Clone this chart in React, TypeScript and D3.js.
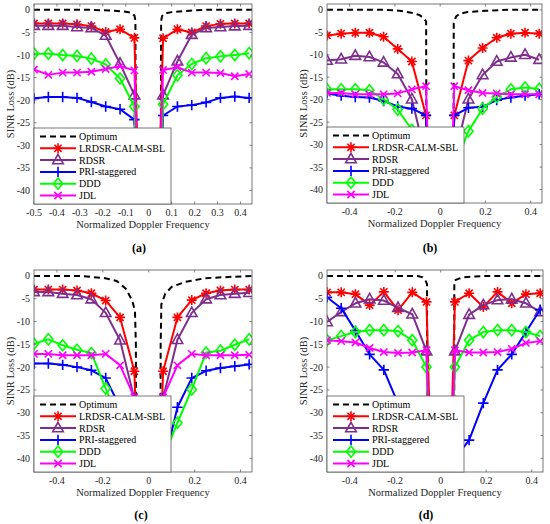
import * as d3 from "d3";

// normalized Doppler frequency grid of the marked series (0 is the clutter notch)
const xGrid = [-0.5, -0.4375, -0.375, -0.3125, -0.25, -0.1875, -0.125, -0.0625, 0, 0.0625, 0.125, 0.1875, 0.25, 0.3125, 0.375, 0.4375];
const NOTCH = -120;

const seriesNames = ["Optimum", "LRDSR-CALM-SBL", "RDSR", "PRI-staggered", "DDD", "JDL"];
const seriesColors = ["#000000", "#FF0000", "#7E2F8E", "#0000FF", "#00FF00", "#FF00FF"];
const seriesMarkers = ["none", "star", "tri", "plus", "diamond", "x"];

const xTicksA = [-0.5, -0.4, -0.3, -0.2, -0.1, 0, 0.1, 0.2, 0.3, 0.4];
const xTicksB = [-0.4, -0.2, 0, 0.2, 0.4];
const yTicks = [0, -5, -10, -15, -20, -25, -30, -35, -40];

// (a)
const optXA = [-0.5, -0.25, -0.2, -0.15, -0.1, -0.08, -0.07, -0.062, -0.058, -0.054, 0, 0.05, 0.054, 0.058, 0.065, 0.08, 0.1, 0.15, 0.2, 0.25, 0.45];
const optYA = [0, 0, -0.1, -0.2, -0.4, -0.6, -0.9, -1.3, -2.5, -90, -150, -90, -2.5, -1.4, -1.0, -0.7, -0.5, -0.3, -0.1, 0, 0];
const lrdsrA = [-3.0, -3.0, -3.0, -3.2, -3.6, -4.9, -4.3, -6.2, NOTCH, -6.3, -4.3, -5.0, -3.6, -3.1, -3.0, -3.0];
const rdsrA = [-3.5, -3.5, -3.5, -3.8, -4.0, -5.7, -11.9, -18.9, NOTCH, -18.9, -11.4, -5.5, -4.0, -3.8, -3.6, -3.5];
const priA = [-19.6, -19.3, -19.3, -19.5, -20.4, -21.4, -22.0, -24.3, NOTCH, -23.4, -21.4, -21.1, -20.5, -19.5, -19.2, -19.5];
const dddA = [-9.7, -9.7, -10.0, -10.2, -10.8, -12.1, -15.2, -21.4, NOTCH, -20.9, -14.5, -12.0, -10.7, -10.3, -10.0, -9.6];
const jdlA = [-13.2, -14.4, -13.9, -13.9, -13.7, -13.1, -12.5, -13.4, NOTCH, -13.3, -12.7, -13.9, -13.9, -14.0, -14.7, -14.2];

// (b)
const optXB = [-0.5, -0.25, -0.18, -0.12, -0.09, -0.072, -0.062, -0.058, 0, 0.058, 0.06, 0.07, 0.085, 0.12, 0.2, 0.3, 0.45];
const optYB = [0, 0, -0.2, -0.7, -1.2, -1.9, -2.6, -90, -150, -90, -3.0, -1.5, -0.9, -0.5, -0.2, 0, 0];
const lrdsrB = [-5.7, -5.3, -5.1, -5.1, -6.0, -8.7, -11.5, -23.5, NOTCH, -23.5, -11.3, -8.5, -6.2, -5.3, -5.1, -5.3];
const rdsrB = [-11.3, -11.0, -10.2, -10.5, -11.7, -14.3, -19.9, -33.0, NOTCH, -33.0, -19.9, -14.5, -11.5, -10.6, -10.0, -11.1];
const priB = [-18.6, -19.1, -19.4, -19.5, -20.3, -21.5, -22.0, -23.5, NOTCH, -23.5, -21.8, -21.6, -20.1, -19.5, -19.1, -18.8];
const dddB = [-17.7, -17.7, -17.7, -17.9, -19.9, -22.2, -26.7, -35.0, NOTCH, -35.0, -27.0, -22.0, -19.4, -17.7, -17.3, -17.6];
const jdlB = [-18.5, -18.5, -18.8, -18.8, -18.8, -18.6, -17.7, -17.0, NOTCH, -17.0, -17.9, -18.5, -18.6, -18.8, -18.8, -18.8];

// (c)
const optXC = [-0.5, -0.3, -0.19, -0.14, -0.1, -0.072, -0.06, -0.056, -0.054, 0, 0.05, 0.052, 0.055, 0.072, 0.1, 0.16, 0.245, 0.36, 0.45];
const optYC = [0, 0, -0.5, -1.1, -2.8, -5.4, -7.7, -15, -90, -150, -90, -15, -6.2, -3.9, -2.4, -1.3, -0.5, -0.2, 0];
const lrdsrC = [-3.0, -3.0, -3.0, -3.2, -3.8, -5.4, -9.1, -20.9, NOTCH, -20.9, -9.1, -5.3, -3.8, -3.2, -3.0, -3.0];
const rdsrC = [-3.5, -3.5, -3.9, -4.2, -5.1, -8.1, -14.1, -27.0, NOTCH, -26.8, -14.0, -8.1, -5.1, -4.2, -3.9, -3.7];
const priC = [-19.2, -19.2, -19.5, -20.0, -20.7, -22.4, -28.8, -40.0, NOTCH, -42.0, -28.8, -22.4, -20.8, -20.2, -19.8, -19.4];
const dddC = [-14.9, -13.9, -15.2, -16.2, -16.9, -24.7, -32.2, -40.0, NOTCH, -40.0, -32.2, -24.9, -16.8, -16.4, -15.1, -13.9];
const jdlC = [-17.1, -17.1, -17.4, -17.4, -17.4, -17.1, -19.6, -26.6, NOTCH, -26.6, -19.6, -17.1, -17.4, -17.4, -17.4, -17.3];

// (d)
const optXD = [-0.5, -0.1, -0.08, -0.065, -0.06, -0.058, 0, 0.058, 0.06, 0.065, 0.08, 0.1, 0.15, 0.2, 0.45];
const optYD = [0, 0, -0.3, -1.2, -1.8, -90, -150, -90, -1.2, -0.9, -0.6, -0.3, -0.1, 0, 0];
const lrdsrD = [-3.6, -3.6, -4.0, -6.4, -3.5, -7.5, -3.6, -5.7, NOTCH, -5.7, -3.8, -6.8, -3.5, -6.0, -4.0, -3.8];
const rdsrD = [-10.1, -7.9, -6.0, -5.1, -5.4, -7.0, -8.4, -16.5, NOTCH, -16.5, -8.5, -6.4, -5.3, -5.1, -6.0, -7.9];
const priD = [-4.7, -7.1, -12.0, -17.2, -20.6, -28.0, -36.0, -40.0, NOTCH, -40.0, -36.0, -27.9, -20.6, -17.2, -12.3, -7.4];
const dddD = [-14.1, -13.2, -12.3, -11.9, -11.9, -12.1, -14.1, -20.0, NOTCH, -20.0, -14.1, -12.3, -11.9, -11.9, -12.3, -13.2];
const jdlD = [-14.1, -14.3, -14.6, -15.8, -16.7, -16.9, -16.8, -16.3, NOTCH, -16.3, -16.8, -16.8, -16.7, -16.0, -14.7, -14.3];

const FONT = "'Liberation Serif', 'Times New Roman', serif";
const TEXT = "#262626";

const panels = [
  { key: "a", caption: "(a)", left: 34, right: 252, top: 4, bottom: 204, capX: 139, capY: 248, xTicks: xTicksA, optX: optXA, optY: optYA, series: [lrdsrA, rdsrA, priA, dddA, jdlA] },
  { key: "b", caption: "(b)", left: 327, right: 542, top: 4, bottom: 203, capX: 430, capY: 248, xTicks: xTicksB, optX: optXB, optY: optYB, series: [lrdsrB, rdsrB, priB, dddB, jdlB] },
  { key: "c", caption: "(c)", left: 34, right: 252, top: 270, bottom: 472, capX: 141, capY: 515, xTicks: xTicksB, optX: optXC, optY: optYC, series: [lrdsrC, rdsrC, priC, dddC, jdlC] },
  { key: "d", caption: "(d)", left: 327, right: 543, top: 270, bottom: 472, capX: 426, capY: 515, xTicks: xTicksB, optX: optXD, optY: optYD, series: [lrdsrD, rdsrD, priD, dddD, jdlD] },
];

const markerPath = (kind: string, s: number) => {
  switch (kind) {
    case "star": {
      const d = s * 0.72;
      return `M${-s},0H${s}M0,${-s}V${s}M${-d},${-d}L${d},${d}M${-d},${d}L${d},${-d}`;
    }
    case "tri":
      return `M0,${-s * 1.1}L${s},${s * 0.7}L${-s},${s * 0.7}Z`;
    case "plus":
      return `M${-s},0H${s}M0,${-s}V${s}`;
    case "diamond":
      return `M0,${-s}L${s * 0.82},0L0,${s}L${-s * 0.82},0Z`;
    case "x": {
      const d = s * 0.75;
      return `M${-d},${-d}L${d},${d}M${-d},${d}L${d},${-d}`;
    }
    default:
      return "";
  }
};
const markerSize: Record<string, number> = { star: 5, tri: 5.3, plus: 5.2, diamond: 5.6, x: 4.8 };

// MATLAB prints a plain hyphen for negatives
const fmtX = (d: number) => (d === 0 ? "0" : d3.format(".1f")(d).replace("\u2212", "-"));
const fmtY = (d: number) => d3.format("d")(d).replace("\u2212", "-");

function Panel({ p }: { p: (typeof panels)[number] }) {
  const x = d3.scaleLinear().domain([-0.5, 0.45]).range([p.left, p.right]);
  const y = d3.scaleLinear().domain([-43, 1.3]).range([p.bottom, p.top]);
  const line = d3
    .line<[number, number]>()
    .x((d) => x(d[0]))
    .y((d) => y(d[1]));
  const clipId = `clip-${p.key}`;
  const legLeft = p.left;
  const legTop = p.bottom - 76;
  const legW = 137;
  const midX = (p.left + p.right) / 2;
  const midY = (p.top + p.bottom) / 2;
  const optPts = p.optX.map((v, i) => [v, p.optY[i]] as [number, number]);

  return (
    <g>
      <defs>
        <clipPath id={clipId}>
          <rect x={p.left} y={p.top} width={p.right - p.left} height={p.bottom - p.top} />
        </clipPath>
      </defs>
      <rect x={p.left} y={p.top} width={p.right - p.left} height={p.bottom - p.top} fill="#fff" />

      <g clipPath={`url(#${clipId})`}>
        <path d={line(optPts) || ""} fill="none" stroke="#000" strokeWidth={2} strokeDasharray="6 4" />
        {p.series.map((vals, si) => {
          const pts = xGrid.map((v, i) => [v, vals[i]] as [number, number]);
          const kind = seriesMarkers[si + 1];
          const color = seriesColors[si + 1];
          return (
            <g key={si}>
              <path d={line(pts) || ""} fill="none" stroke={color} strokeWidth={2} strokeLinejoin="round" />
              {pts.map((pt, i) => (
                <path
                  key={i}
                  d={markerPath(kind, markerSize[kind])}
                  transform={`translate(${x(pt[0])},${y(pt[1])})`}
                  fill="none"
                  stroke={color}
                  strokeWidth={1.6}
                />
              ))}
            </g>
          );
        })}
      </g>

      {/* axes box and ticks */}
      <rect x={p.left} y={p.top} width={p.right - p.left} height={p.bottom - p.top} fill="none" stroke="#555" strokeWidth={0.8} />
      {p.xTicks.map((t) => (
        <g key={`xt${t}`}>
          <line x1={x(t)} x2={x(t)} y1={p.bottom} y2={p.bottom - 2.5} stroke="#555" strokeWidth={0.7} />
          <line x1={x(t)} x2={x(t)} y1={p.top} y2={p.top + 2.5} stroke="#555" strokeWidth={0.7} />
          <text x={x(t)} y={p.bottom + 8} dy="0.35em" textAnchor="middle" fontFamily={FONT} fontSize={10} fill={TEXT}>
            {fmtX(t)}
          </text>
        </g>
      ))}
      {yTicks.map((t) => (
        <g key={`yt${t}`}>
          <line x1={p.left} x2={p.left + 2.5} y1={y(t)} y2={y(t)} stroke="#555" strokeWidth={0.7} />
          <line x1={p.right} x2={p.right - 2.5} y1={y(t)} y2={y(t)} stroke="#555" strokeWidth={0.7} />
          <text x={p.left - 4} y={y(t)} dy="0.35em" textAnchor="end" fontFamily={FONT} fontSize={10} fill={TEXT}>
            {fmtY(t)}
          </text>
        </g>
      ))}

      <text x={midX} y={p.bottom + 20} dy="0.35em" textAnchor="middle" fontFamily={FONT} fontSize={10.5} fill={TEXT}>
        Normalized Doppler Frequency
      </text>
      <text
        transform={`translate(${p.left - 24},${midY}) rotate(-90)`}
        textAnchor="middle"
        dy="0.35em"
        fontFamily={FONT}
        fontSize={10.5}
        fill={TEXT}
      >
        SINR Loss (dB)
      </text>

      {/* legend */}
      <rect x={legLeft} y={legTop} width={legW} height={p.bottom - legTop} fill="#fff" stroke="#555" strokeWidth={0.8} />
      {seriesNames.map((name, i) => {
        const ly = legTop + 8.5 + i * 11.8;
        const kind = seriesMarkers[i];
        return (
          <g key={name}>
            <line
              x1={legLeft + 6}
              x2={legLeft + 42}
              y1={ly}
              y2={ly}
              stroke={seriesColors[i]}
              strokeWidth={2}
              strokeDasharray={i === 0 ? "6 4" : undefined}
            />
            {kind !== "none" && (
              <path
                d={markerPath(kind, markerSize[kind])}
                transform={`translate(${legLeft + 24},${ly})`}
                fill="none"
                stroke={seriesColors[i]}
                strokeWidth={1.6}
              />
            )}
            <text x={legLeft + 45} y={ly} dy="0.35em" fontFamily={FONT} fontSize={10} fill="#000">
              {name}
            </text>
          </g>
        );
      })}

      <text x={p.capX} y={p.capY} dy="0.35em" textAnchor="middle" fontFamily={FONT} fontSize={12} fontWeight="bold" fill="#000">
        {p.caption}
      </text>
    </g>
  );
}

export default function App() {
  return (
    <svg width={550} height={524} style={{ position: "absolute", left: 0, top: 0, background: "#fff" }}>
      {panels.map((p) => (
        <Panel key={p.key} p={p} />
      ))}
    </svg>
  );
}
